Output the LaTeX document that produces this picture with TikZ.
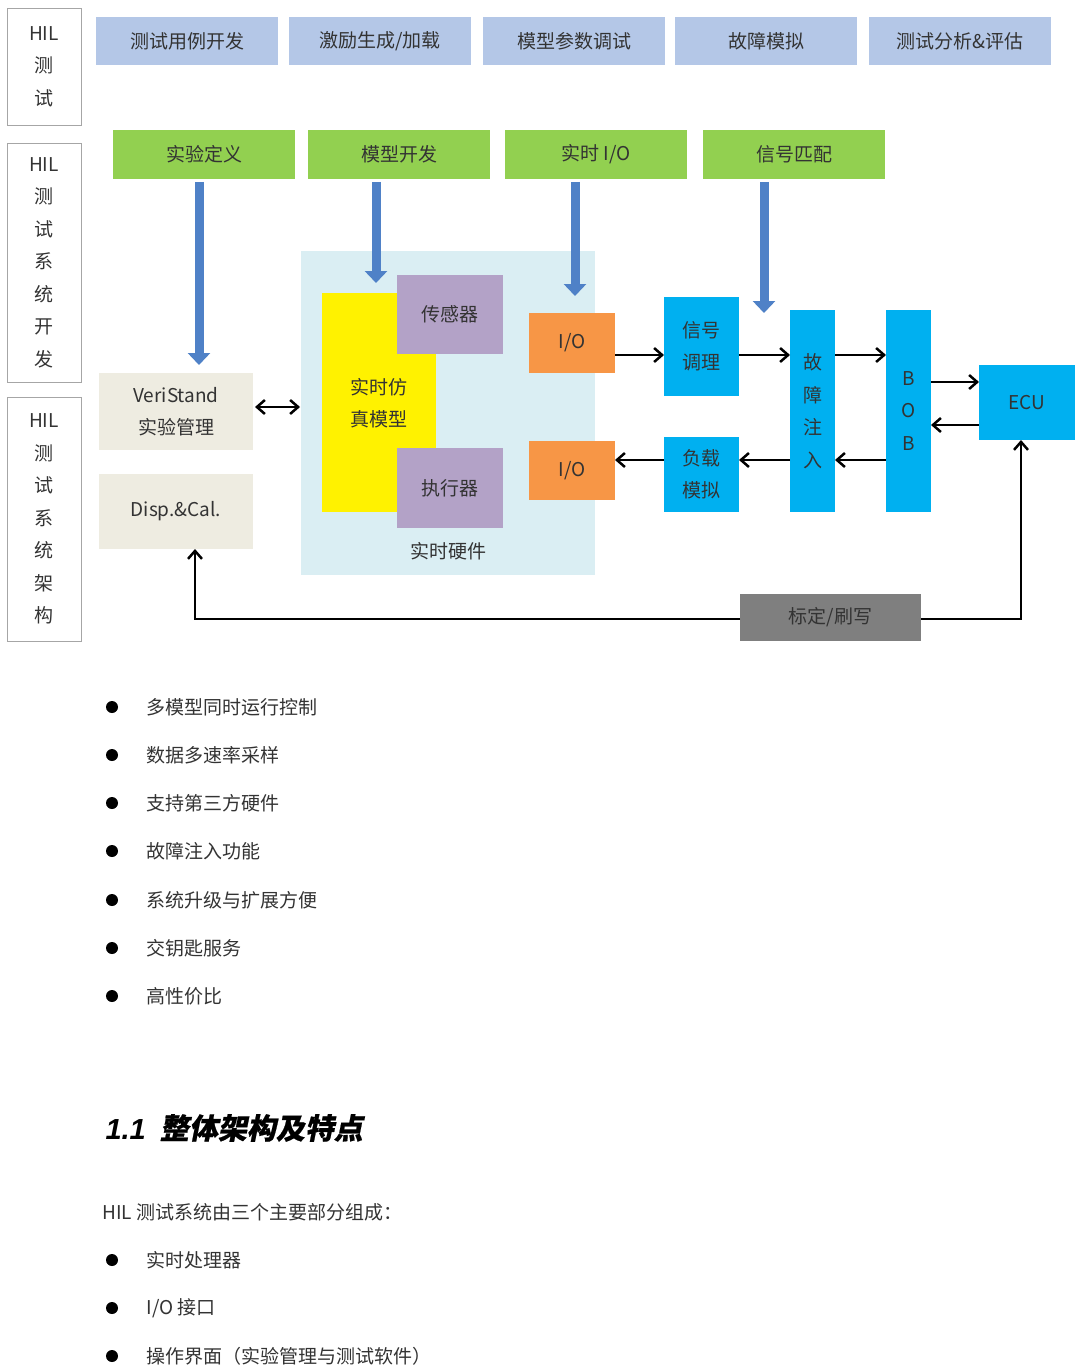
\documentclass[tikz,border=0pt]{standalone}
\usepackage{fontspec}
\setmainfont{Liberation Sans}
\newfontfamily\cjk{Noto Sans CJK SC}
\usetikzlibrary{arrows.meta}
\definecolor{topb}{HTML}{B4C7E7}
\definecolor{grn}{HTML}{92D050}
\definecolor{barr}{HTML}{4F81C7}
\definecolor{hw}{HTML}{DAEEF3}
\definecolor{purp}{HTML}{B3A2C7}
\definecolor{beige}{HTML}{EEECE1}
\definecolor{org}{HTML}{F79646}
\definecolor{cyn}{HTML}{00B0F0}
\definecolor{gry}{HTML}{7F7F7F}
\begin{document}
\begin{tikzpicture}[x=1pt,y=-1pt,
 txt/.style={font=\fontsize{19}{24}\selectfont\cjk, text=black!80, align=center},
 arr/.style={-{Straight Barb[length=8pt,width=14pt]}, line width=2.5pt},
 barrow/.style={-{Triangle[length=12pt,width=22pt]}, line width=9pt, barr}]
\useasboundingbox (0,0) rectangle (1080,1372);
% left boxes
\foreach \a/\b/\t/\n in {8/125/{HIL\\测\\试}/l1,143/382/{HIL\\测\\试\\系\\统\\开\\发}/l2,397/641/{HIL\\测\\试\\系\\统\\架\\构}/l3}
 \draw[gray!70] (7,\a) rectangle (81,\b) node[txt,midway,font=\fontsize{19}{32.5}\selectfont\cjk] (\n) {\t};
% top row
\foreach \x/\t/\n in {96/{测试用例开发}/t1,289/{激励生成/加载}/t2,483/{模型参数调试}/t3,675/{故障模拟}/t4,869/{测试分析\&评估}/t5}
 \fill[topb] (\x,17) rectangle ++(182,48) node[txt,midway] (\n) {\t};
\foreach \x/\t/\n in {113/{实验定义}/g1,308/{模型开发}/g2,505/{实时 I/O}/g3,703/{信号匹配}/g4}
 \fill[grn] (\x,130) rectangle ++(182,49) node[txt,midway] (\n) {\t};
% hardware region
\fill[hw] (301,251) rectangle (595,575);
\node[txt] (hwl) at (448,551) {实时硬件};
\fill[yellow] (322,293) rectangle (436,512);
\node[txt,font=\fontsize{19}{32}\selectfont\cjk] (sim) at (379,403) {实时仿\\真模型};
\fill[purp] (397,275) rectangle (503,354) node[txt,midway] (sen) {传感器};
\fill[purp] (397,448) rectangle (503,528) node[txt,midway] (act) {执行器};
% beige
\fill[beige] (99,373) rectangle (253,450) node[txt,midway,font=\fontsize{19}{32}\selectfont\cjk] (vs) {VeriStand\\实验管理};
\fill[beige] (99,474) rectangle (253,549) node[txt,midway] (dc) {Disp.\&Cal.};
% IO etc
\fill[org] (529,313) rectangle (615,373) node[txt,midway] (io1) {I/O};
\fill[org] (529,441) rectangle (615,500) node[txt,midway] (io2) {I/O};
\fill[cyn] (664,297) rectangle (739,396) node[txt,midway,font=\fontsize{19}{32}\selectfont\cjk] (sc) {信号\\调理};
\fill[cyn] (664,437) rectangle (739,512) node[txt,midway,font=\fontsize{19}{32}\selectfont\cjk] (ld) {负载\\模拟};
\fill[cyn] (790,310) rectangle (835,512) node[txt,midway,font=\fontsize{19}{32.5}\selectfont\cjk] (fi) {故\\障\\注\\入};
\fill[cyn] (886,310) rectangle (931,512) node[txt,midway,font=\fontsize{19}{32.5}\selectfont\cjk] (bob) {B\\O\\B};
\fill[cyn] (979,365) rectangle (1075,440) node[txt,midway] (ecu) {ECU};
\fill[gry] (740,594) rectangle (921,641) node[txt,midway] (cal) {标定/刷写};
% blue arrows
\draw[barrow] (199,182) -- (199,365);
\draw[barrow] (376,182) -- (376,283);
\draw[barrow] (575,182) -- (575,296);
\draw[barrow] (764,182) -- (764,313);
% black arrows
\draw[{Straight Barb[length=8pt,width=14pt]}-{Straight Barb[length=8pt,width=14pt]},line width=2.5pt] (255,407) -- (300,407);
\draw[arr] (615,355) -- (664,355);
\draw[arr] (739,355) -- (790,355);
\draw[arr] (835,355) -- (886,355);
\draw[arr] (931,382) -- (979,382);
\draw[arr] (979,425) -- (931,425);
\draw[arr] (886,460) -- (835,460);
\draw[arr] (790,460) -- (739,460);
\draw[arr] (664,460) -- (615,460);
\draw[arr] (921,619) -- (1021,619) -- (1021,440);
\draw[arr] (740,619) -- (195,619) -- (195,549);
% bullets
\foreach \y/\t in {707/{多模型同时运行控制},755/{数据多速率采样},803/{支持第三方硬件},851/{故障注入功能},900/{系统升级与扩展方便},948/{交钥匙服务},996/{高性价比},1260/{实时处理器},1308/{I/O 接口},1356/{操作界面（实验管理与测试软件）}}{
 \fill (112,\y) circle (6);
 \node[txt,anchor=west] at (143,\y) {\t};}
\node[anchor=west,font=\fontsize{29}{34}\selectfont\bfseries\itshape] (h) at (102,1128) {1.1\hspace{14pt}{\cjk\addfontfeature{FakeSlant=0.2,FakeBold=0.6}整体架构及特点}};
\node[txt,anchor=west] (intro) at (99,1212) {HIL 测试系统由三个主要部分组成：};
\end{tikzpicture}
\end{document}
